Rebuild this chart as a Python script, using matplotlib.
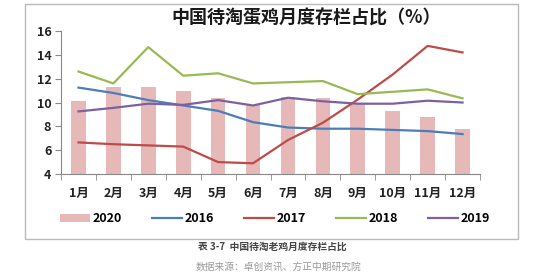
import numpy as np
import matplotlib
matplotlib.use('Agg')
from matplotlib import pyplot as plt
from matplotlib.patches import Rectangle

plt.rcParams['font.family'] = ['Noto Sans CJK SC', 'DejaVu Sans']

months = ['1月', '2月', '3月', '4月', '5月', '6月', '7月', '8月', '9月', '10月', '11月', '12月']
v2020 = [10.15, 11.3, 11.3, 11.0, 10.4, 9.8, 10.45, 10.35, 9.9, 9.3, 8.75, 7.75]
v2016 = [11.25, 10.8, 10.2, 9.75, 9.3, 8.35, 7.9, 7.8, 7.8, 7.7, 7.6, 7.35]
v2017 = [6.65, 6.5, 6.4, 6.3, 5.0, 4.9, 6.85, 8.3, 10.25, 12.35, 14.75, 14.2]
v2018 = [12.6, 11.6, 14.65, 12.25, 12.45, 11.6, 11.7, 11.8, 10.7, 10.9, 11.1, 10.35]
v2019 = [9.25, 9.55, 9.9, 9.8, 10.2, 9.75, 10.4, 10.1, 9.9, 9.9, 10.15, 10.0]

fig = plt.figure(figsize=(5.53, 2.76), dpi=100)
ax = fig.add_axes([61/553, 1-174/276, 419/553, 143/276])

x = np.arange(len(months))
b = ax.bar(x, np.array(v2020) - 4, bottom=4, width=0.42, color='#E6B9B8', label='2020')
l1, = ax.plot(x, v2016, color='#4A7EBB', lw=1.6, label='2016')
l2, = ax.plot(x, v2017, color='#BE4B48', lw=1.6, label='2017')
l3, = ax.plot(x, v2018, color='#98B954', lw=1.6, label='2018')
l4, = ax.plot(x, v2019, color='#7D60A0', lw=1.6, label='2019')

ax.set_xlim(-0.5, 11.5)
ax.set_ylim(4, 16)
ax.set_yticks(range(4, 17, 2))
ax.set_yticklabels([str(t) for t in range(4, 17, 2)], fontsize=9, fontweight='bold', color='#222222')
ax.set_xticks(x)
ax.set_xticklabels(months, fontsize=9, fontweight='bold', color='#222222')
ax.tick_params(axis='x', length=0, pad=9)
ax.set_xticks(np.arange(-0.5, 12, 1), minor=True)
ax.tick_params(axis='x', which='minor', length=4, direction='out', color='#888888')
ax.tick_params(axis='y', length=4, direction='out', color='#888888', pad=3)
for s in ['top', 'right']:
    ax.spines[s].set_visible(False)
for s in ['left', 'bottom']:
    ax.spines[s].set_color('#888888')
    ax.spines[s].set_linewidth(0.8)

fig.legend([b, l1, l2, l3, l4], ['2020', '2016', '2017', '2018', '2019'],
           loc='center', bbox_to_anchor=(275/553, 1-219/276), ncol=5, frameon=False,
           handlelength=2.4, handleheight=0.6, handletextpad=0.2, columnspacing=2.4,
           prop={'weight': 'bold', 'size': 9})

fig.text(306/553, 1-18/276, '中国待淘蛋鸡月度存栏占比（%）', ha='center', va='center',
         fontsize=13, fontweight='bold', color='#1A1A1A')

fig.patches.append(Rectangle((25/553, 1-239/276), 493/553, 235/276, transform=fig.transFigure,
                             fill=False, edgecolor='#BBBBBB', lw=1.0))

fig.text(272/553, 1-247/276, '表 3-7  中国待淘老鸡月度存栏占比', ha='center', va='center',
         fontsize=7, fontweight='bold', color='#444444')
fig.text(278/553, 1-267/276, '数据来源：卓创资讯、方正中期研究院', ha='center', va='center',
         fontsize=7, color='#9A9A9A')

fig.savefig('out.png', dpi=100)
